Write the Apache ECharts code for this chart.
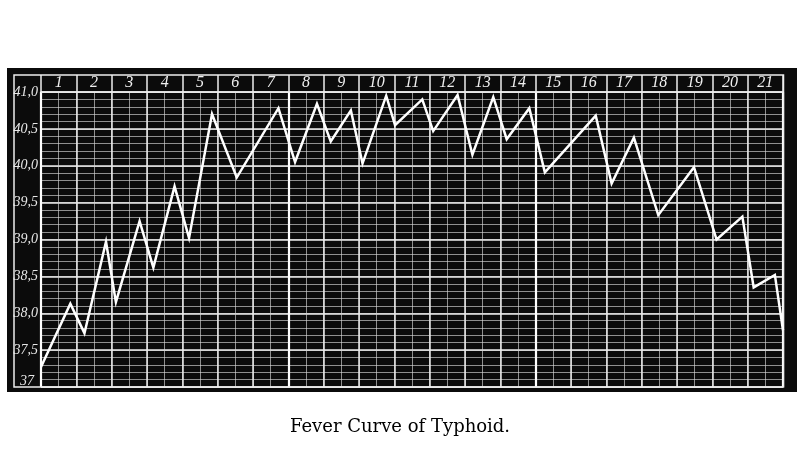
<!DOCTYPE html>
<html>
<head>
<meta charset="utf-8">
<script src="https://cdn.jsdelivr.net/npm/echarts@6/dist/echarts.min.js"></script>
<style>html,body{margin:0;padding:0;background:#fff}#c{width:800px;height:466px}</style>
</head>
<body>
<div id="c"></div>
<script>
// Day labels in the header row
const dayLabels = ['1','2','3','4','5','6','7','8','9','10','11','12','13','14','15','16','17','18','19','20','21'];
// Temperature tick labels (comma decimals, as printed)
const tempLabels = {'37':'37','37.5':'37,5','38':'38,0','38.5':'38,5','39':'39,0','39.5':'39,5','40':'40,0','40.5':'40,5','41':'41,0'};
// Time of each reading, in days from the start of day 1
const readingTime = [0, 0.83, 1.23, 1.84, 2.12, 2.79, 3.18, 3.78, 4.19, 4.84, 5.54, 6.72, 7.19, 7.81, 8.20, 8.77, 9.10, 9.77, 10.02, 10.79, 11.10, 11.79, 12.21, 12.80, 13.18, 13.82, 14.26, 15.70, 16.15, 16.78, 17.47, 18.48, 19.12, 19.85, 20.17, 20.77, 21.0];
// Temperature of each reading, °C
const temperature = [37.27, 38.13, 37.73, 38.97, 38.15, 39.25, 38.62, 39.72, 39.02, 40.70, 39.84, 40.78, 40.05, 40.84, 40.33, 40.75, 40.03, 40.95, 40.55, 40.90, 40.47, 40.96, 40.15, 40.93, 40.36, 40.78, 39.91, 40.68, 39.76, 40.38, 39.33, 39.98, 39.00, 39.31, 38.35, 38.52, 37.77];

const chart = echarts.init(document.getElementById('c'), null, {renderer: 'canvas'});
const G = {left: 41, top: 92, width: 742, height: 295};
const hidden = {axisLine: {show: false}, axisTick: {show: false}, axisLabel: {show: false}};
const minorLine = {color: 'rgba(215,215,215,0.65)', width: 1};
const option = {
  backgroundColor: '#ffffff',
  animation: false,
  title: {
    text: 'Fever Curve of Typhoid.',
    left: 'center', top: 413,
    textStyle: {fontFamily: 'DejaVu Serif', fontSize: 18, fontWeight: 'normal', color: '#000000'}
  },
  graphic: [
    {type: 'rect', z: -10, shape: {x: 7, y: 68, width: 790, height: 324}, style: {fill: '#0b0b0b'}},
    {type: 'rect', z: 10, shape: {x: 14, y: 75, width: 769.5, height: 312}, style: {fill: null, stroke: '#eeeeee', lineWidth: 1.5}}
  ],
  grid: G,
  xAxis: [
    Object.assign({type: 'value', min: 0, max: 21, interval: 0.5, position: 'bottom',
      splitLine: {show: true, lineStyle: minorLine}}, hidden),
    Object.assign({type: 'value', min: 0, max: 21, interval: 1, position: 'bottom',
      splitLine: {show: true, lineStyle: {color: '#ededed', width: 1.5}}}, hidden),
    Object.assign({type: 'value', min: 0, max: 21, interval: 7, position: 'bottom',
      splitLine: {show: true, lineStyle: {color: '#ffffff', width: 2.2}}}, hidden),
    {type: 'category', data: dayLabels, position: 'top', boundaryGap: true,
      axisLine: {show: true, lineStyle: {color: '#eeeeee', width: 1.5}},
      axisTick: {show: true, length: 17, alignWithLabel: false, lineStyle: {color: '#eeeeee', width: 1.5}},
      axisLabel: {show: true, margin: 1, color: '#f0f0f0', fontFamily: 'Liberation Serif', fontStyle: 'italic', fontSize: 16},
      splitLine: {show: false}}
  ],
  yAxis: [
    Object.assign({type: 'value', min: 37, max: 41, interval: 0.1,
      splitLine: {show: true, lineStyle: minorLine}}, hidden),
    {type: 'value', min: 37, max: 41, interval: 0.5, position: 'left',
      axisLine: {show: false}, axisTick: {show: false},
      axisLabel: {show: true, margin: 3, color: '#e6e6e6', fontFamily: 'Liberation Serif', fontStyle: 'italic', fontSize: 14,
        formatter: v => {
          const s = tempLabels[String(+v.toFixed(1))] || '';
          return +v.toFixed(1) === 37 ? '{low|' + s + '}' : s;
        },
        rich: {low: {color: '#e6e6e6', fontFamily: 'Liberation Serif', fontStyle: 'italic', fontSize: 14, padding: [0, 4, 12, 0]}}},
      splitLine: {show: true, lineStyle: {color: '#ededed', width: 1.6}}}
  ],
  series: [{
    type: 'line', xAxisIndex: 0, yAxisIndex: 0,
    data: readingTime.map((t, i) => [t, temperature[i]]),
    showSymbol: false, symbol: 'none', smooth: false, z: 20,
    lineStyle: {color: '#ffffff', width: 2.5, join: 'miter'}
  }]
};
chart.setOption(option);
</script>
</body>
</html>
